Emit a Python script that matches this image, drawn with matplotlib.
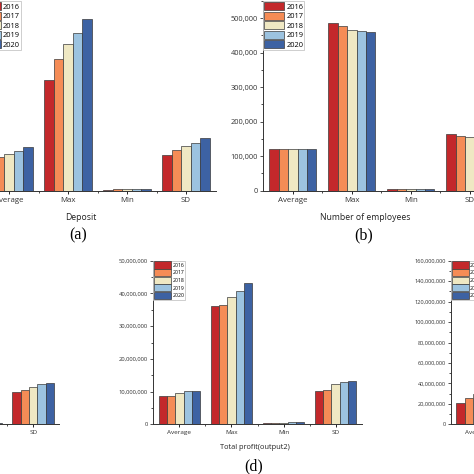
import matplotlib
matplotlib.use("Agg")
import matplotlib.pyplot as plt
import numpy as np
from matplotlib.ticker import FuncFormatter, FixedLocator, MultipleLocator

plt.rcParams['font.family'] = ['Open Sans', 'DejaVu Sans']

years = ['2016', '2017', '2018', '2019', '2020']
stats = ['Average', 'Max', 'Min', 'SD']
colors = ['#c3282b', '#f58c56', '#efe8c3', '#9cc3e0', '#3d62a3']

# values per year, ordered as stats (Average, Max, Min, SD)
deposit = {
    '2016': [300, 1110, 10, 357],
    '2017': [337, 1320, 18, 410],
    '2018': [367, 1470, 18, 450],
    '2019': [400, 1580, 20, 477],
    '2020': [440, 1720, 20, 523],
}
employees = {
    '2016': [122000, 487000, 5000, 163000],
    '2017': [122000, 478000, 5000, 160000],
    '2018': [121000, 466000, 5000, 157000],
    '2019': [122000, 464000, 5000, 155000],
    '2020': [122000, 459000, 5000, 153000],
}
profit1 = {
    '2016': [8200000, 34000000, 300000, 9900000],
    '2017': [8500000, 35000000, 350000, 10600000],
    '2018': [9300000, 37000000, 300000, 11500000],
    '2019': [9800000, 39000000, 400000, 12200000],
    '2020': [10100000, 41000000, 500000, 12600000],
}
profit2 = {
    '2016': [8500000, 36300000, 400000, 10300000],
    '2017': [8600000, 36500000, 500000, 10600000],
    '2018': [9700000, 38800000, 400000, 12400000],
    '2019': [10300000, 40700000, 600000, 13000000],
    '2020': [10300000, 43100000, 700000, 13300000],
}
profit3 = {
    '2016': [21100000, 130000000, 900000, 30000000],
    '2017': [25400000, 135000000, 1000000, 32000000],
    '2018': [29600000, 140000000, 1100000, 34000000],
    '2019': [33000000, 146000000, 1200000, 36000000],
    '2020': [36000000, 150000000, 1300000, 38000000],
}

W, H = 474, 474
fig = plt.figure(figsize=(4.74, 4.74), dpi=100)


def rect(left, right, top, bottom):
    return [left / W, (H - bottom) / H, (right - left) / W, (bottom - top) / H]


def comma(v, pos):
    return f'{int(round(v)):,}'


def panel(box, data, ymax, ymajor, yminor, fs_tick, fs_leg, leg_w, leg_h, leg_pitch):
    ax = fig.add_axes(rect(*box))
    x = np.arange(len(stats))
    bw = 0.16
    for i, y in enumerate(years):
        ax.bar(x + (i - 2) * bw, data[y], bw, color=colors[i],
               edgecolor='#3a3a3a', linewidth=0.5, label=y)
    ax.set_xlim(-0.5, 3.5)
    ax.set_ylim(0, ymax)
    for s in ['top', 'right']:
        ax.spines[s].set_visible(False)
    for s in ['left', 'bottom']:
        ax.spines[s].set_linewidth(0.7)
        ax.spines[s].set_color('#333333')
    ax.set_xticks(x)
    ax.set_xticklabels(stats, fontsize=fs_tick + 0.4, color='#333333')
    ax.xaxis.set_minor_locator(FixedLocator([0.5, 1.5, 2.5]))
    ax.yaxis.set_major_locator(MultipleLocator(ymajor))
    ax.yaxis.set_minor_locator(MultipleLocator(yminor))
    ax.yaxis.set_major_formatter(FuncFormatter(comma))
    ax.tick_params(axis='y', labelsize=fs_tick, colors='#333333')
    ax.tick_params(which='major', direction='out', length=2.2, width=0.6, pad=1.8)
    ax.tick_params(which='minor', direction='out', length=1.2, width=0.5)
    fpx = fs_leg * 100 / 72
    ax.legend(loc='upper left', bbox_to_anchor=(0, 1), borderaxespad=0,
              fontsize=fs_leg, frameon=True, fancybox=False,
              edgecolor='#bbbbbb', framealpha=1,
              handlelength=leg_w / fpx, handleheight=leg_h / fpx,
              labelspacing=(leg_pitch - leg_h) / fpx, handletextpad=0.25,
              borderpad=0.15)
    ax.get_legend().get_frame().set_linewidth(0.5)
    return ax


# top row: (a) Deposit, (b) Number of employees
ax_a = panel((-20.5, 215.5, 1, 190.6), deposit, 1896, 200, 100,
             5.3, 5.4, 20, 10, 10.8)
ax_b = panel((263.3, 499.3, 1, 190.7), employees, 550000, 100000, 50000,
             5.3, 5.4, 20, 10, 10.8)

# bottom row: (c), (d) Total profit(output2), (e)
ax_c = panel((-149, 59.3, 260.7, 424.3), profit1, 50000000, 10000000, 5000000,
             4.2, 3.7, 17, 9, 9.5)
ax_d = panel((153.3, 361.7, 260.7, 424.3), profit2, 50000000, 10000000, 5000000,
             4.2, 3.7, 17, 9, 9.5)
ax_e = panel((451, 659.4, 260.7, 424.3), profit3, 160000000, 20000000, 10000000,
             4.1, 3.7, 17, 9, 9.5)

for a in [ax_a, ax_b]:
    a.tick_params(axis='x', pad=2.5)
for a in [ax_c, ax_d, ax_e]:
    a.tick_params(axis='x', pad=2.0)


# axis titles and panel letters
def label(xp, yp, s, size, serif=False):
    fam = ['Liberation Serif', 'DejaVu Serif'] if serif else ['Open Sans', 'DejaVu Sans']
    fig.text(xp / W, (H - yp) / H, s, ha='center', va='center',
             fontsize=size, family=fam, color='black' if serif else '#222222')


label(81, 217.5, 'Deposit', 6.2)
label(365, 217.5, 'Number of employees', 6.2)
label(78, 235, '(a)', 11.5, serif=True)
label(364, 235, '(b)', 11.5, serif=True)
label(254.7, 447.5, 'Total profit(output2)', 5.3)
label(254, 466.5, '(d)', 11.5, serif=True)

fig.savefig('out.png', dpi=100)
